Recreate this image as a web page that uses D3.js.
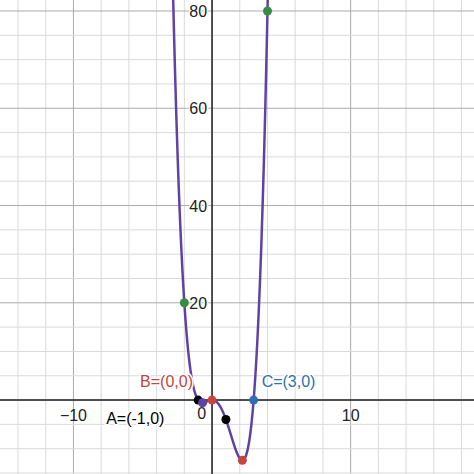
<!DOCTYPE html><html><head><script src="https://cdn.jsdelivr.net/npm/d3@7"></script>
<style>body{margin:0;background:#fff}</style></head><body><svg width="474" height="474"></svg>
<script>
const xTicks=[-10,10], yTicks=[20,40,60,80];
const coeffs=[1,-2,-3,0,0]; // x^4 - 2x^3 - 3x^2
const pts=[
 {x:-1,y:0,c:"#000",label:"A=(-1,0)",dx:-92,dy:24},
 {x:0,y:0,c:"#c74440",label:"B=(0,0)",dx:-72,dy:-13},
 {x:3,y:0,c:"#2d70b3",label:"C=(3,0)",dx:8,dy:-13},
 {x:-2,y:20,c:"#388c46"},{x:4,y:80,c:"#388c46"},
 {x:1,y:-4,c:"#000"},{x:-0.686,y:-0.544,c:"#6042a6"},{x:2.186,y:-12.39,c:"#c74440"}];
const svg=d3.select("svg");
const x=d3.scaleLinear().domain([-15.3,18.9]).range([0,474]);
const y=d3.scaleLinear().domain([82.26,-15.2]).range([0,474]);
const f=t=>coeffs.reduce((a,c)=>a*t+c,0);
const g=svg.append("g");
for(let v=-16;v<=20;v+=2) g.append("line").attr("x1",x(v)).attr("x2",x(v)).attr("y1",0).attr("y2",474).attr("stroke",v%10==0?"#aaa":"#dadada").attr("stroke-width",1);
for(let v=-15;v<=85;v+=5) g.append("line").attr("y1",y(v)).attr("y2",y(v)).attr("x1",0).attr("x2",474).attr("stroke",v%20==0?"#aaa":"#dadada").attr("stroke-width",1);
svg.append("line").attr("x1",x(0)).attr("x2",x(0)).attr("y1",0).attr("y2",474).attr("stroke","#222").attr("stroke-width",1.5);
svg.append("line").attr("y1",y(0)).attr("y2",y(0)).attr("x1",0).attr("x2",474).attr("stroke","#222").attr("stroke-width",1.5);
const font="Arial, 'Liberation Sans', sans-serif";
xTicks.forEach(v=>svg.append("text").attr("x",x(v)).attr("y",y(0)+21).attr("text-anchor","middle").attr("font-family",font).attr("font-size",16).attr("fill","#222").text(v<0?"\u2212"+(-v):v));
svg.append("text").attr("x",x(0)-6).attr("y",y(0)+19).attr("text-anchor","end").attr("font-family",font).attr("font-size",16).attr("fill","#222").text("0");
yTicks.forEach(v=>svg.append("text").attr("x",x(0)-5).attr("y",y(v)+6).attr("text-anchor","end").attr("font-family",font).attr("font-size",16).attr("fill","#222").attr("stroke","#fff").attr("stroke-width",3).attr("paint-order","stroke").text(v));
const xs=d3.range(-3,5,0.005);
svg.append("path").attr("d",d3.line().x(t=>x(t)).y(t=>y(f(t)))(xs)).attr("fill","none").attr("stroke","#6042a6").attr("stroke-width",2.5);
pts.forEach(p=>{svg.append("circle").attr("cx",x(p.x)).attr("cy",y(p.y)).attr("r",4.5).attr("fill",p.c);
 if(p.label) svg.append("text").attr("x",x(p.x)+p.dx).attr("y",y(p.y)+p.dy).attr("font-family",font).attr("font-size",16).attr("fill",p.c).attr("stroke","#fff").attr("stroke-width",3).attr("paint-order","stroke").text(p.label);});
</script></body></html>
